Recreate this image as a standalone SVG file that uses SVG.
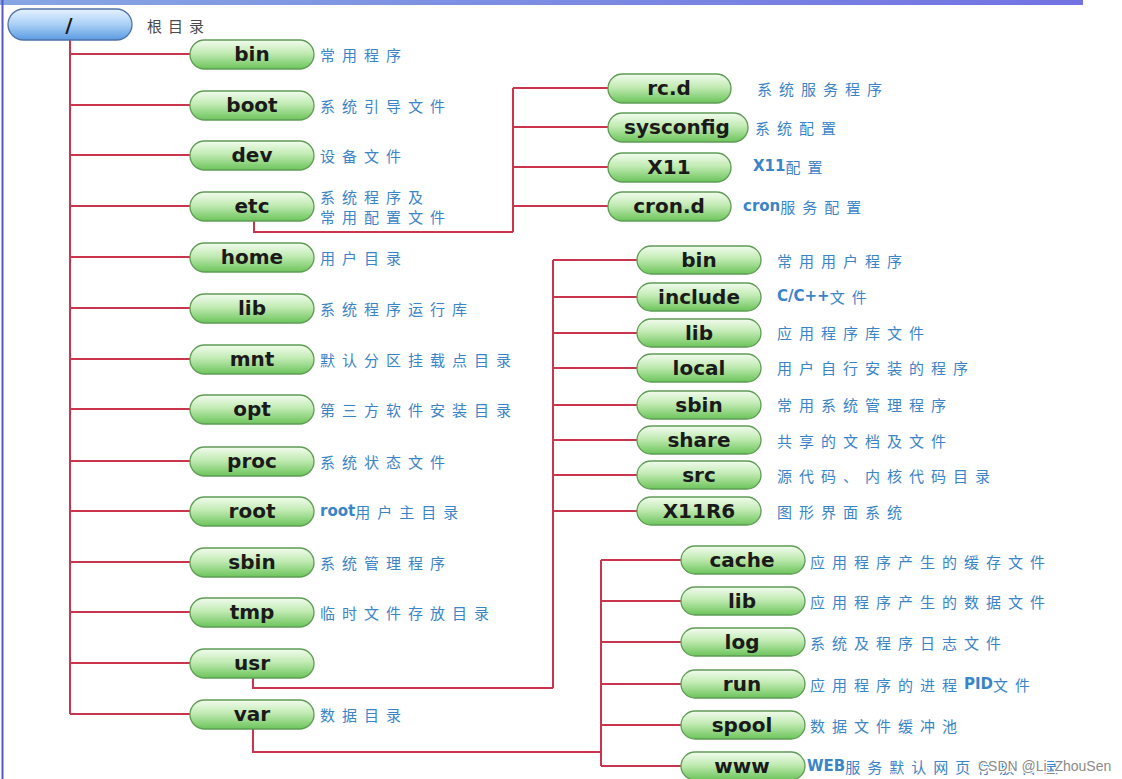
<svg xmlns="http://www.w3.org/2000/svg" width="1122" height="779" viewBox="0 0 1122 779">
<defs>
<linearGradient id="gGreen" x1="0" y1="0" x2="0" y2="1">
<stop offset="0" stop-color="#f2fcee"/>
<stop offset="0.45" stop-color="#c2ebb4"/>
<stop offset="1" stop-color="#6cc45b"/>
</linearGradient>
<linearGradient id="gBlue" x1="0" y1="0" x2="0" y2="1">
<stop offset="0" stop-color="#e6f2ff"/>
<stop offset="0.5" stop-color="#a9cff5"/>
<stop offset="1" stop-color="#5a9be3"/>
</linearGradient>
<linearGradient id="gBand" x1="0" y1="0" x2="1" y2="0">
<stop offset="0" stop-color="#86a6e2"/>
<stop offset="1" stop-color="#7272e2"/>
</linearGradient>
</defs>
<style>
.n{fill:url(#gGreen);stroke:#5f9c55;stroke-width:1.3}
.nl{font-family:"DejaVu Sans","Liberation Sans",sans-serif;font-weight:bold;font-size:20px;fill:#1a1a1a;text-anchor:middle;dominant-baseline:central}
.d{font-family:"Noto Sans CJK SC","Liberation Sans",sans-serif;font-size:15px;fill:#3a84c8;letter-spacing:7px;dominant-baseline:central}
.b{font-family:"DejaVu Sans","Liberation Sans",sans-serif;font-weight:bold;letter-spacing:0px;font-size:15px}
.c{fill:none;stroke:#c9354c;stroke-width:2}
</style>
<rect x="0" y="0" width="1122" height="779" fill="#ffffff"/>
<rect x="0" y="0" width="1083" height="5" fill="url(#gBand)"/>
<rect x="1.5" y="0" width="2" height="779" fill="#5656cc"/>

<g id="connectors">
<path class="c" d="M70 40V714M70 54H190M70 105H190M70 155H190M70 206H190M70 257H190M70 308H190M70 359H190M70 409H190M70 461H190M70 511H190M70 562H190M70 612H190M70 663H190M70 714H190"/>
<path class="c" d="M254 220V232H513M513 88V232M513 88H608M513 127H608M513 167H608M513 206H608"/>
<path class="c" d="M253 678V688H553M553 260V688M553 260H637M553 297H637M553 333H637M553 368H637M553 405H637M553 440H637M553 475H637M553 511H637"/>
<path class="c" d="M253 728V752H601M601 560V766M601 560H681M601 601H681M601 642H681M601 684H681M601 725H681M601 766H681"/>
</g>

<g id="root">
<rect x="8" y="9" width="124" height="31" rx="15.5" fill="url(#gBlue)" stroke="#5072a8" stroke-width="1.3"/>
<text x="69" y="25" class="nl" fill="#1a2a4a">/</text>
<text x="147" y="25" class="d" style="fill:#4a4a4a;letter-spacing:6px">根目录</text>
</g>

<g id="bin"><rect class="n" x="190" y="40" width="124" height="29" rx="14.5"/><text class="nl" x="252" y="54">bin</text><text class="d" x="320" y="54">常用程序</text></g>
<g id="boot"><rect class="n" x="190" y="91" width="124" height="29" rx="14.5"/><text class="nl" x="252" y="105">boot</text><text class="d" x="320" y="105">系统引导文件</text></g>
<g id="dev"><rect class="n" x="190" y="141" width="124" height="29" rx="14.5"/><text class="nl" x="252" y="155">dev</text><text class="d" x="320" y="155">设备文件</text></g>
<g id="etc"><rect class="n" x="190" y="192" width="124" height="29" rx="14.5"/><text class="nl" x="252" y="206">etc</text><text class="d" x="320" y="196">系统程序及</text><text class="d" x="320" y="216">常用配置文件</text></g>
<g id="home"><rect class="n" x="190" y="243" width="124" height="29" rx="14.5"/><text class="nl" x="252" y="257">home</text><text class="d" x="320" y="257">用户目录</text></g>
<g id="lib"><rect class="n" x="190" y="294" width="124" height="29" rx="14.5"/><text class="nl" x="252" y="308">lib</text><text class="d" x="320" y="308">系统程序运行库</text></g>
<g id="mnt"><rect class="n" x="190" y="345" width="124" height="29" rx="14.5"/><text class="nl" x="252" y="359">mnt</text><text class="d" x="320" y="359">默认分区挂载点目录</text></g>
<g id="opt"><rect class="n" x="190" y="395" width="124" height="29" rx="14.5"/><text class="nl" x="252" y="409">opt</text><text class="d" x="320" y="409">第三方软件安装目录</text></g>
<g id="proc"><rect class="n" x="190" y="447" width="124" height="29" rx="14.5"/><text class="nl" x="252" y="461">proc</text><text class="d" x="320" y="461">系统状态文件</text></g>
<g id="root-dir"><rect class="n" x="190" y="497" width="124" height="29" rx="14.5"/><text class="nl" x="252" y="511">root</text><text class="d" x="320" y="511"><tspan class="b">root</tspan>用户主目录</text></g>
<g id="sbin"><rect class="n" x="190" y="548" width="124" height="29" rx="14.5"/><text class="nl" x="252" y="562">sbin</text><text class="d" x="320" y="562">系统管理程序</text></g>
<g id="tmp"><rect class="n" x="190" y="598" width="124" height="29" rx="14.5"/><text class="nl" x="252" y="612">tmp</text><text class="d" x="320" y="612">临时文件存放目录</text></g>
<g id="usr"><rect class="n" x="190" y="649" width="124" height="29" rx="14.5"/><text class="nl" x="252" y="663">usr</text></g>
<g id="var"><rect class="n" x="190" y="700" width="124" height="29" rx="14.5"/><text class="nl" x="252" y="714">var</text><text class="d" x="320" y="714">数据目录</text></g>

<g id="etc-rc.d"><rect class="n" x="608" y="74" width="123" height="29" rx="14.5"/><text class="nl" x="669" y="88">rc.d</text><text class="d" x="757" y="88">系统服务程序</text></g>
<g id="etc-sysconfig"><rect class="n" x="608" y="113" width="140" height="29" rx="14.5"/><text class="nl" x="677" y="127">sysconfig</text><text class="d" x="755" y="127">系统配置</text></g>
<g id="etc-X11"><rect class="n" x="608" y="153" width="123" height="29" rx="14.5"/><text class="nl" x="669" y="167">X11</text><text class="d" x="753" y="166"><tspan class="b">X11</tspan>配置</text></g>
<g id="etc-cron.d"><rect class="n" x="608" y="192" width="123" height="29" rx="14.5"/><text class="nl" x="669" y="206">cron.d</text><text class="d" x="743" y="206"><tspan class="b">cron</tspan>服务配置</text></g>

<g id="usr-bin"><rect class="n" x="637" y="246" width="124" height="28" rx="14"/><text class="nl" x="699" y="260">bin</text><text class="d" x="777" y="260">常用用户程序</text></g>
<g id="usr-include"><rect class="n" x="637" y="283" width="124" height="28" rx="14"/><text class="nl" x="699" y="297">include</text><text class="d" x="777" y="296"><tspan class="b">C/C++</tspan>文件</text></g>
<g id="usr-lib"><rect class="n" x="637" y="319" width="124" height="28" rx="14"/><text class="nl" x="699" y="333">lib</text><text class="d" x="777" y="332">应用程序库文件</text></g>
<g id="usr-local"><rect class="n" x="637" y="354" width="124" height="28" rx="14"/><text class="nl" x="699" y="368">local</text><text class="d" x="777" y="367">用户自行安装的程序</text></g>
<g id="usr-sbin"><rect class="n" x="637" y="391" width="124" height="28" rx="14"/><text class="nl" x="699" y="405">sbin</text><text class="d" x="777" y="404">常用系统管理程序</text></g>
<g id="usr-share"><rect class="n" x="637" y="426" width="124" height="28" rx="14"/><text class="nl" x="699" y="440">share</text><text class="d" x="777" y="440">共享的文档及文件</text></g>
<g id="usr-src"><rect class="n" x="637" y="461" width="124" height="28" rx="14"/><text class="nl" x="699" y="475">src</text><text class="d" x="777" y="475">源代码、内核代码目录</text></g>
<g id="usr-X11R6"><rect class="n" x="637" y="497" width="124" height="28" rx="14"/><text class="nl" x="699" y="511">X11R6</text><text class="d" x="777" y="511">图形界面系统</text></g>

<g id="var-cache"><rect class="n" x="681" y="546" width="124" height="28" rx="14"/><text class="nl" x="742" y="560">cache</text><text class="d" x="810" y="561">应用程序产生的缓存文件</text></g>
<g id="var-lib"><rect class="n" x="681" y="587" width="124" height="28" rx="14"/><text class="nl" x="742" y="601">lib</text><text class="d" x="810" y="601">应用程序产生的数据文件</text></g>
<g id="var-log"><rect class="n" x="681" y="628" width="124" height="28" rx="14"/><text class="nl" x="742" y="642">log</text><text class="d" x="810" y="642">系统及程序日志文件</text></g>
<g id="var-run"><rect class="n" x="681" y="670" width="124" height="28" rx="14"/><text class="nl" x="742" y="684">run</text><text class="d" x="810" y="684">应用程序的进程<tspan class="b">PID</tspan>文件</text></g>
<g id="var-spool"><rect class="n" x="681" y="711" width="124" height="28" rx="14"/><text class="nl" x="742" y="725">spool</text><text class="d" x="810" y="725">数据文件缓冲池</text></g>
<g id="var-www"><rect class="n" x="681" y="752" width="124" height="28" rx="14"/><text class="nl" x="742" y="766">www</text><text class="d" x="807" y="766"><tspan class="b">WEB</tspan>服务默认网页存放目录</text></g>

<text x="978" y="766" font-family="Liberation Sans, sans-serif" font-size="14" fill="#8a8a8a" stroke="#ffffff" stroke-width="2.5" paint-order="stroke" dominant-baseline="central">CSDN @Li_ZhouSen</text>
</svg>
